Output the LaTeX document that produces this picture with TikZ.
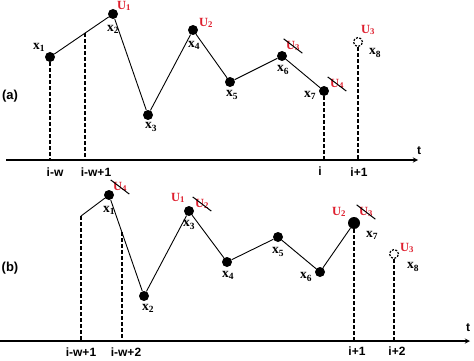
\documentclass[tikz,border=0pt]{standalone}
\usepackage{fontspec}
\setmainfont{Liberation Serif}
\setsansfont{Liberation Sans}
\usetikzlibrary{calc}
\definecolor{ured}{RGB}{222,30,45}
\newcommand{\xs}[1]{x\textsubscript{#1}}
\newcommand{\us}[1]{U\textsubscript{#1}}
\begin{document}
\begin{tikzpicture}[x=1pt,y=-1pt,>=stealth,
		dot/.style={circle,fill=black,inner sep=0pt,minimum size=10pt},
		bigdot/.style={dot,minimum size=12pt},
		hole/.style={circle,draw=black,line width=1.2pt,dash pattern=on 2pt off 1.5pt,inner sep=0pt,minimum size=9pt},
		drop/.style={line width=1.5pt,dash pattern=on 4pt off 2pt},
		xlab/.style={font=\fontsize{13.5}{15}\selectfont\bfseries,inner sep=1pt},
		ulab/.style={text=ured,font=\fontsize{12.5}{14}\selectfont\bfseries,inner sep=1pt},
		tick/.style={font=\sffamily\bfseries\fontsize{12}{14}\selectfont,inner sep=1pt},
		strike/.style={line width=1pt,shorten <=-1.5pt,shorten >=-1.5pt},
		axis/.style={->,line width=1.3pt}]
	\useasboundingbox (0,0) rectangle (474,361);
	% panel (a)
	\coordinate (ta0) at (6,160);
	\coordinate (ta1) at (418,160);
	\draw[axis] (ta0)--(ta1);
	\node[tick] (ta) at (419,151) {t};
	\node[tick,font=\sffamily\bfseries\fontsize{13}{15}\selectfont] (pa) at (10,96) {(a)};
	\node[dot] (a1) at (50,57) {};
	\node[dot] (a2) at (113,14) {};
	\node[dot] (a3) at (148,115) {};
	\node[dot] (a4) at (193,30) {};
	\node[dot] (a5) at (230,82) {};
	\node[dot] (a6) at (282,56) {};
	\node[dot] (a7) at (324,91) {};
	\node[hole] (a8) at (358,42) {};
	\draw[line width=0.9pt] (a1)--(a2)--(a3)--(a4)--(a5)--(a6)--(a7);
	\coordinate (aw) at ($(a1)!0.556!(a2)$);
	\draw[drop] (a1)--(a1 |- ta0) (aw)--(aw |- ta0) (a7)--(a7 |- ta0) (a8)--(a8 |- ta0);
	\node[xlab] (la1) at (39,47) {\xs{1}};
	\node[xlab] (la2) at (113,29) {\xs{2}};
	\node[xlab] (la3) at (151,127) {\xs{3}};
	\node[xlab] (la4) at (194,45) {\xs{4}};
	\node[xlab] (la5) at (232,95) {\xs{5}};
	\node[xlab] (la6) at (283,70) {\xs{6}};
	\node[xlab] (la7) at (310,95) {\xs{7}};
	\node[xlab] (la8) at (375,53) {\xs{8}};
	\node[ulab] (ua1) at (124,6) {\us{1}};
	\node[ulab] (ua2) at (206,23) {\us{2}};
	\node[ulab] (ua3) at (293,46) {\us{3}};
	\node[ulab] (ua4) at (337,84) {\us{4}};
	\node[ulab] (ua8) at (368,30) {\us{3}};
	\draw[strike] (ua3.north west)--(ua3.south east);
	\draw[strike] (ua4.north west)--(ua4.south east);
	\node[tick] (ka1) at (55,172) {i-w};
	\node[tick] (ka2) at (96,172) {i-w+1};
	\node[tick] (ka3) at (320,171) {i};
	\node[tick] (ka4) at (359,172) {i+1};
	% panel (b)
	\coordinate (tb0) at (0,341);
	\coordinate (tb1) at (470,341);
	\draw[axis] (tb0)--(tb1);
	\node[tick] (tb) at (468,328) {t};
	\node[tick,font=\sffamily\bfseries\fontsize{13}{15}\selectfont] (pb) at (10,268) {(b)};
	\coordinate (b0) at (81,216);
	\node[dot] (b1) at (109,195) {};
	\node[dot] (b2) at (144,296) {};
	\node[dot] (b3) at (189,211) {};
	\node[dot] (b4) at (227,262) {};
	\node[dot] (b5) at (278,237) {};
	\node[dot] (b6) at (320,272) {};
	\node[bigdot] (b7) at (354,223) {};
	\node[hole] (b8) at (394,254) {};
	\draw[line width=0.9pt] (b0)--(b1)--(b2)--(b3)--(b4)--(b5)--(b6)--(b7);
	\coordinate (bw) at ($(b1)!0.371!(b2)$);
	\draw[drop] (b0)--(b0 |- tb0) (bw)--(bw |- tb0) (b7)--(b7 |- tb0) (b8)--(b8 |- tb0);
	\node[xlab] (lb1) at (109,210) {\xs{1}};
	\node[xlab] (lb2) at (148,308) {\xs{2}};
	\node[xlab] (lb3) at (189,225) {\xs{3}};
	\node[xlab] (lb4) at (228,275) {\xs{4}};
	\node[xlab] (lb5) at (278,252) {\xs{5}};
	\node[xlab] (lb6) at (306,277) {\xs{6}};
	\node[xlab] (lb7) at (372,235) {\xs{7}};
	\node[xlab] (lb8) at (413,267) {\xs{8}};
	\node[ulab] (ub1) at (120,187) {\us{4}};
	\node[ulab] (ub3) at (178,198) {\us{1}};
	\node[ulab] (ub4) at (202,204) {\us{2}};
	\node[ulab] (ub7) at (339,212) {\us{2}};
	\node[ulab] (ub8) at (366,212) {\us{3}};
	\node[ulab] (ub9) at (407,248) {\us{3}};
	\draw[strike] (ub1.north west)--(ub1.south east);
	\draw[strike] (ub4.north west)--(ub4.south east);
	\draw[strike] (ub8.north west)--(ub8.south east);
	\node[tick] (kb1) at (81,352) {i-w+1};
	\node[tick] (kb2) at (126,352) {i-w+2};
	\node[tick] (kb3) at (357,351) {i+1};
	\node[tick] (kb4) at (397,351) {i+2};
\end{tikzpicture}
\end{document}
